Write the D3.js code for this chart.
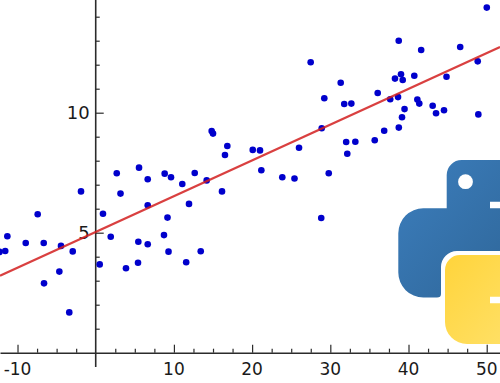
<!DOCTYPE html>
<html>
<head>
<meta charset="utf-8">
<script src="https://cdn.jsdelivr.net/npm/d3@7"></script>
<style>
  body { margin: 0; background: #fff; }
  svg { display: block; }
  text { font-family: "DejaVu Sans", sans-serif; fill: #1a1a1a; }
</style>
</head>
<body>
<div id="chart"></div>
<script>
// scatter values
const pointX = [2.69, 5.54, 6.65, 8.82, 9.63, 11.07, 12.66, 14.19, 14.83, 15.00,
  16.83, 16.53, 20.08, 21.01, 21.18, 23.86, 25.42, 26.00, 27.49, 28.90,
  29.23, 29.80, 31.33, 31.78, 32.69, 32.03, 33.20, 32.17, 35.68, 36.06,
  36.89, 37.66, 38.66, 38.75, 38.27, 39.04, 39.26, 38.76, 39.17, 39.49,
  40.74, 41.13, 41.38, 41.62, 43.09, 43.52, 44.54, 44.86, 46.61, 48.85,
  48.93, 50.01, 16.15, 11.93, 9.18, 28.84, 9.31, 13.43, 11.57, 8.73,
  6.65, 3.17, 0.93, 1.92, 5.45, 6.65, 0.51, 3.87, 5.41, -1.88,
  -7.42, -11.30, -8.95, -6.65, -4.44, -2.94, -11.57, -12.30, -4.65, -6.61,
  -3.38];
const pointY = [7.48, 7.71, 7.23, 7.46, 7.31, 7.03, 7.49, 7.18, 9.24, 9.13,
  8.61, 8.24, 8.45, 8.43, 7.60, 7.31, 7.26, 8.54, 12.10, 9.35,
  10.60, 7.48, 11.25, 10.36, 10.38, 8.78, 8.79, 8.29, 8.85, 10.82,
  9.25, 10.56, 10.65, 13.00, 11.42, 11.60, 11.36, 9.38, 9.81, 10.15,
  11.54, 10.55, 10.38, 12.61, 10.29, 9.98, 10.10, 11.50, 12.74, 12.14,
  9.93, 14.38, 6.72, 6.20, 5.63, 5.61, 4.21, 4.23, 3.77, 4.90,
  6.14, 6.63, 5.79, 4.83, 4.62, 4.52, 3.68, 3.52, 3.75, 6.72,
  5.77, 4.85, 4.57, 4.57, 4.45, 4.22, 4.24, 4.20, 3.38, 2.89,
  1.68];

// fitted line y = intercept + slope * x
const fitIntercept = 5.03;
const fitSlope = 0.149;

const xMajor = [-10, 10, 20, 30, 40, 50];
const xMinor = d3.range(-12.5, 52.5, 2.5).filter(d => d % 10 !== 0);
const yMajor = [5, 10, 15];
const yMinor = d3.range(1, 15, 1).filter(d => d % 5 !== 0);

const width = 500, height = 383;

const svg = d3.select("#chart")
  .append("svg")
    .attr("width", width)
    .attr("height", height);

const x = d3.scaleLinear()
  .domain([-12.24, 51.70])
  .range([0, width]);

const y = d3.scaleLinear()
  .domain([-1.2625, 14.696])
  .range([height, 0]);

// axes crossing at the origin
const axisColor = "#2b2b2b";

svg.append("g")
  .attr("transform", "translate(0," + y(0) + ")")
  .call(d3.axisTop(x).tickValues(xMinor).tickSize(4).tickSizeOuter(0).tickFormat(""))
  .call(g => g.select(".domain").remove());

svg.append("g")
  .attr("transform", "translate(0," + y(0) + ")")
  .call(d3.axisTop(x).tickValues(xMajor).tickSize(8).tickSizeOuter(0).tickFormat(""))
  .call(g => g.select(".domain").attr("stroke-width", 1.6));

svg.append("g")
  .attr("transform", "translate(" + x(0) + ",0)")
  .call(d3.axisRight(y).tickValues(yMinor).tickSize(4).tickFormat(""))
  .call(g => g.select(".domain").remove());

svg.append("g")
  .attr("transform", "translate(" + x(0) + ",0)")
  .call(d3.axisRight(y).tickValues(yMajor).tickSize(8).tickFormat(""))
  .call(g => g.select(".domain").remove());

svg.append("line")
  .attr("x1", x(0)).attr("x2", x(0))
  .attr("y1", y(-0.6)).attr("y2", 0)
  .attr("stroke", axisColor)
  .attr("stroke-width", 1.6);

svg.selectAll(".tick line").attr("stroke", axisColor).attr("stroke-width", 1.2);
svg.selectAll(".domain").attr("stroke", axisColor);

// tick labels (plain hyphen for negatives)
svg.selectAll(".xlabel")
  .data(xMajor)
  .enter()
  .append("text")
    .attr("class", "xlabel")
    .attr("x", d => x(d))
    .attr("y", y(0) + 22.3)
    .attr("text-anchor", "middle")
    .style("font-size", "17px")
    .text(d => String(d));

svg.selectAll(".ylabel")
  .data(yMajor)
  .enter()
  .append("text")
    .attr("class", "ylabel")
    .attr("x", x(0) - 6)
    .attr("y", d => y(d))
    .attr("dy", "0.37em")
    .attr("text-anchor", "end")
    .style("font-size", "18px")
    .text(d => String(d));

// points
const points = pointX.map((d, i) => ({x: d, y: pointY[i]}));

svg.append("g")
  .selectAll("circle")
  .data(points)
  .enter()
  .append("circle")
    .attr("cx", d => x(d.x))
    .attr("cy", d => y(d.y))
    .attr("r", 3.3)
    .attr("fill", "#0000cc");

// regression line
const xDom = x.domain();
svg.append("line")
  .attr("x1", x(xDom[0]))
  .attr("y1", y(fitIntercept + fitSlope * xDom[0]))
  .attr("x2", x(xDom[1]))
  .attr("y2", y(fitIntercept + fitSlope * xDom[1]))
  .attr("stroke", "#d21e1e")
  .attr("stroke-opacity", 0.85)
  .attr("stroke-width", 2.2);

// python logo in the corner (decoration, clipped by the svg edge)
const defs = svg.append("defs");
const blueGrad = defs.append("linearGradient")
  .attr("id", "blueGrad")
  .attr("x1", "0%").attr("y1", "0%").attr("x2", "100%").attr("y2", "100%");
blueGrad.append("stop").attr("offset", "0%").attr("stop-color", "#3c7ebd");
blueGrad.append("stop").attr("offset", "100%").attr("stop-color", "#2e6597");

const yellowGrad = defs.append("linearGradient")
  .attr("id", "yellowGrad")
  .attr("x1", "0%").attr("y1", "0%").attr("x2", "100%").attr("y2", "100%");
yellowGrad.append("stop").attr("offset", "0%").attr("stop-color", "#ffd43b");
yellowGrad.append("stop").attr("offset", "100%").attr("stop-color", "#ffe16a");

const logo = svg.append("g");

logo.append("path")
  .attr("fill", "url(#blueGrad)")
  .attr("d", "M446.7,175 A15,15 0 0 1 461.7,160 H520 V201.7 H490 V208.3 H520 V251 " +
    "H457 A16,16 0 0 0 441,267 V294 Q441,297.5 437,297.5 H423.3 " +
    "A25,25 0 0 1 398.3,272.5 V233.3 A25,25 0 0 1 423.3,208.3 H446.7 Z");

logo.append("circle")
  .attr("cx", 465.5).attr("cy", 181.7).attr("r", 7.4)
  .attr("fill", "#fff");

logo.append("path")
  .attr("fill", "url(#yellowGrad)")
  .attr("d", "M445,270 A15,15 0 0 1 460,255 H520 V296.7 H490 V303.3 H520 V344 " +
    "H467 A22,22 0 0 1 445,322 Z");
</script>
</body>
</html>
